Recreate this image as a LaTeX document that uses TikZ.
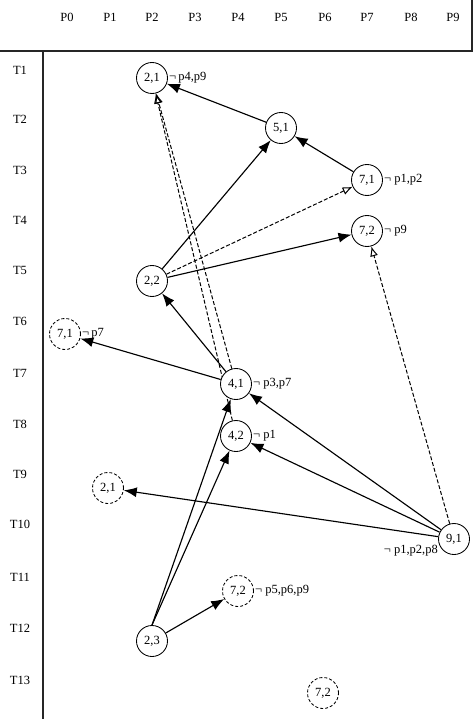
\documentclass[tikz,border=0pt]{standalone}
\usepackage{fontspec}
\setmainfont{Liberation Serif}
\usetikzlibrary{arrows.meta,positioning,calc,backgrounds}

\begin{document}
\begin{tikzpicture}[
			x=1pt, y=-1pt,
			every node/.style={align=center, font=\fontsize{12.5}{14}\selectfont},
			eventVertex/.style={draw, shape=circle, minimum size=31pt, inner sep=0pt, fill=white, line width=0.3mm},
			ghostVertex/.style={eventVertex, dash pattern=on 3pt off 2pt},
			markLabel/.style={label distance=0pt, inner sep=1pt},
			sendarrow/.style={line width=0.4mm, -{Latex[length=13pt, width=10pt]}},
			depArrow/.style={line width=0.35mm, dash pattern=on 4pt off 2pt, -{Latex[open, length=10pt, width=8pt]}},
			gridline/.style={line width=0.5mm, color=black!85}
		]
		\useasboundingbox (0,0) rectangle (474,719);

		% header and time axis
		\draw[gridline] (0,51) -- (472,51) -- (472,0);
		\draw[gridline] (43,51) -- (43,719);
		\foreach \p [count=\i from 0] in {67,110,152,195,238,281,325,367,411,453}
			\node (colP\i) at (\p,17) {P\i};
		\foreach \t [count=\i] in {70,119,170,220,270,321,373,424,474,524,577,628,680}
			\node (rowT\i) at (20,\t) {T\i};

		% events
		\node[eventVertex, label={[markLabel]right:¬\,p4,p9}] (E21) at (152,78) {2,1};
		\node[eventVertex] (E51) at (281,128) {5,1};
		\node[eventVertex, label={[markLabel]right:¬ p1,p2}] (E71) at (367,180) {7,1};
		\node[eventVertex, label={[markLabel]right:¬ p9}] (E72) at (367,231) {7,2};
		\node[eventVertex] (E22) at (152,281) {2,2};
		\node[ghostVertex, label={[markLabel]right:¬\,p7}] (G71) at (65,334) {7,1};
		\node[eventVertex, label={[markLabel]right:¬ p3,p7}] (E41) at (236,384) {4,1};
		\node[eventVertex, label={[markLabel]right:¬ p1}] (E42) at (236,436) {4,2};
		\node[ghostVertex] (G21) at (108,488) {2,1};
		\node[eventVertex, label={[markLabel]200:¬ p1,p2,p8}] (E91) at (454,539) {9,1};
		\node[ghostVertex, label={[markLabel]right:¬ p5,p6,p9}] (G72) at (238,591) {7,2};
		\node[eventVertex] (E23) at (152,641) {2,3};
		\node[ghostVertex] (H72) at (323,693) {7,2};

		% messages, behind the events
		\begin{scope}[on background layer]
			\draw[sendarrow] (E51) -- (E21);
			\draw[sendarrow] (E71) -- (E51);
			\draw[sendarrow] (E22) -- (E51);
			\draw[sendarrow] (E22) -- (E72);
			\draw[sendarrow] (E41) -- (E22);
			\draw[sendarrow] (E41) -- (G71);
			\draw[sendarrow] (E91) -- (E41);
			\draw[sendarrow] (E91) -- (E42);
			\draw[sendarrow] (E91) -- (G21);
			\draw[sendarrow] (E23.north) -- (E41);
			\draw[sendarrow] (E23.north) -- (E42);
			\draw[sendarrow] (E23) -- (G72);
			\draw[depArrow] (E22) -- (E71);
			\draw[depArrow] (E91) -- (E72);
			\draw[depArrow] (E41) -- (E21);
			\draw[depArrow] (E42) -- (E21);
		\end{scope}
	\end{tikzpicture}
\end{document}
